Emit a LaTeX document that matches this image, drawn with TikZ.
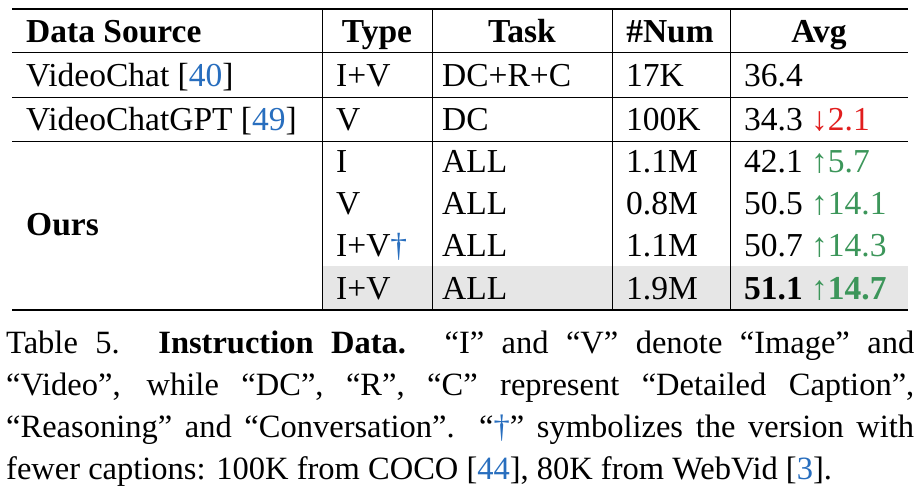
\documentclass[tikz,border=0pt]{standalone}
\usepackage{fontspec}
\setmainfont{Liberation Serif}
\definecolor{citeblue}{RGB}{40,110,190}
\definecolor{downred}{RGB}{225,30,30}
\definecolor{upgreen}{RGB}{60,150,90}
\definecolor{rowgray}{RGB}{230,230,230}
\newcommand{\cit}[1]{[\textcolor{citeblue}{#1}]}
\begin{document}
\begin{tikzpicture}[x=1pt,y=-1pt,
  cell/.style={anchor=base west,inner sep=0pt,font=\fontsize{33.5}{36}\selectfont},
  hcell/.style={anchor=base,inner sep=0pt,font=\fontsize{33.5}{36}\selectfont\bfseries},
  captext/.style={anchor=base west,inner sep=0pt,font=\fontsize{32.5}{36}\selectfont},
  thick rule/.style={line width=2.4pt},
  thin rule/.style={line width=1pt}]
\useasboundingbox (0,0) rectangle (922,496);
\fill[rowgray] (322,266) rectangle (908,309);
% rules
\draw[thick rule] (12,9) -- (908,9);
\draw[thin rule] (12,52) -- (908,52);
\draw[thin rule] (12,97) -- (908,97);
\draw[thin rule] (12,141) -- (908,141);
\draw[thick rule] (12,310) -- (908,310);
\foreach \x in {322,432,612,730} \draw[thin rule] (\x,9) -- (\x,310);
% header
\node[cell,font=\fontsize{33.5}{36}\selectfont\bfseries] (h1) at (26,42) {Data Source};
\node[hcell] (h2) at (377,42) {Type};
\node[hcell] (h3) at (522,42) {Task};
\node[hcell] (h4) at (670,42) {\#Num};
\node[hcell] (h5) at (819,42) {Avg};
% rows
\node[cell] (a1) at (26,86) {VideoChat \cit{40}};
\node[cell] (a2) at (336,86) {I+V};
\node[cell] (a3) at (442,86) {DC+R+C};
\node[cell] (a4) at (626,86) {17K};
\node[cell] (a5) at (744,86) {36.4};
\node[cell] (b1) at (26,130) {VideoChatGPT \cit{49}};
\node[cell] (b2) at (336,130) {V};
\node[cell] (b3) at (442,130) {DC};
\node[cell] (b4) at (626,130) {100K};
\node[cell] (b5) at (744,130) {34.3 \textcolor{downred}{↓2.1}};
\node[cell,font=\fontsize{33.5}{36}\selectfont\bfseries] (o1) at (26,235) {Ours};
\node[cell] (c2) at (336,172) {I};
\node[cell] (c3) at (442,172) {ALL};
\node[cell] (c4) at (626,172) {1.1M};
\node[cell] (c5) at (744,172) {42.1 \textcolor{upgreen}{↑5.7}};
\node[cell] (d2) at (336,214) {V};
\node[cell] (d3) at (442,214) {ALL};
\node[cell] (d4) at (626,214) {0.8M};
\node[cell] (d5) at (744,214) {50.5 \textcolor{upgreen}{↑14.1}};
\node[cell] (e2) at (336,256) {I+V\textcolor{citeblue}{†}};
\node[cell] (e3) at (442,256) {ALL};
\node[cell] (e4) at (626,256) {1.1M};
\node[cell] (e5) at (744,256) {50.7 \textcolor{upgreen}{↑14.3}};
\node[cell] (f2) at (336,299) {I+V};
\node[cell] (f3) at (442,299) {ALL};
\node[cell] (f4) at (626,299) {1.9M};
\node[cell] (f5) at (744,299) {\textbf{51.1 \textcolor{upgreen}{↑14.7}}};
% caption
\node[captext] (l1) at (6,353) {\makebox[908pt][s]{Table 5. \textbf{Instruction Data.} “I” and “V” denote “Image” and}};
\node[captext] (l2) at (6,395) {\makebox[908pt][s]{“Video”, while “DC”, “R”, “C” represent “Detailed Caption”,}};
\node[captext] (l3) at (6,437) {\makebox[908pt][s]{“Reasoning” and “Conversation”. “\textcolor{citeblue}{†}” symbolizes the version with}};
\node[captext] (l4) at (6,479) {fewer captions: 100K from COCO \cit{44}, 80K from WebVid \cit{3}.};
\end{tikzpicture}
\end{document}
